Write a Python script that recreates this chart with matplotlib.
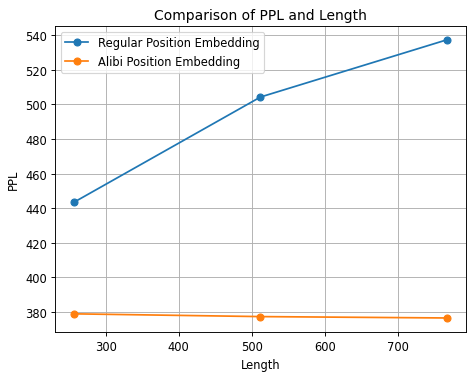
import matplotlib
matplotlib.use('Agg')
import matplotlib.pyplot as plt

lengths = [256, 512, 768]
regular_ppl = [443.3, 504.3, 537.5]
alibi_ppl = [378.8, 377.2, 376.4]

# reference looks like a shrunk render, so draw at a lower dpi
dpi = 83
fig, ax = plt.subplots(figsize=(474 / dpi, 377 / dpi), dpi=dpi)
fig.subplots_adjust(left=0.116, right=0.983, top=0.929, bottom=0.117)
ax.plot(lengths, regular_ppl, marker='o', label='Regular Position Embedding')
ax.plot(lengths, alibi_ppl, marker='o', label='Alibi Position Embedding')
ax.set_title('Comparison of PPL and Length')
ax.set_xlabel('Length')
ax.set_ylabel('PPL')
ax.legend(loc='upper left')
ax.grid(True)
fig.savefig('out.png', dpi=dpi)
